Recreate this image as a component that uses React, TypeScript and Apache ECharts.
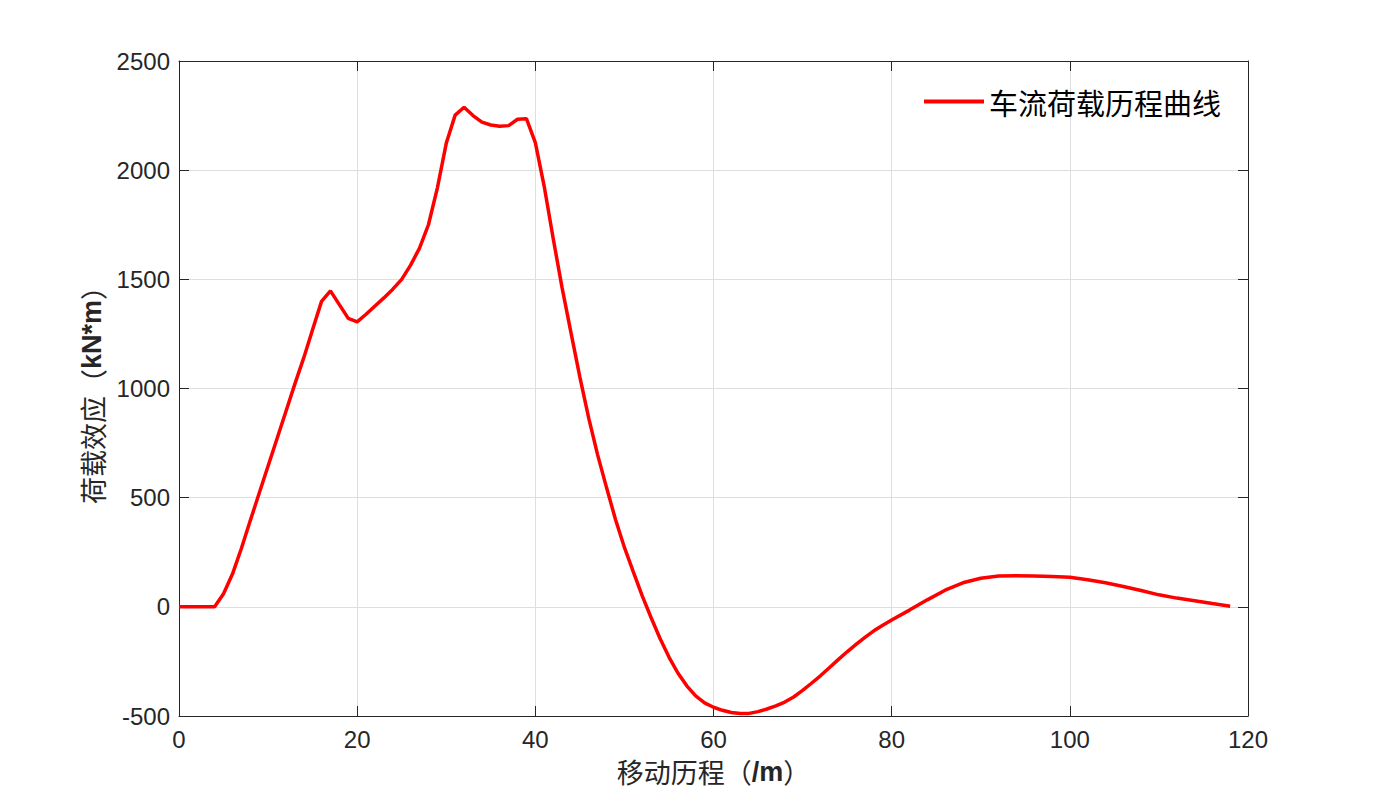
import React, { useEffect, useRef } from "react";
import * as echarts from "echarts";

const distance = [
  0, 1, 2, 3, 4, 5, 6, 7, 8, 9, 10, 11, 12, 13, 14, 15, 16, 17, 18, 19, 20,
  21, 22, 23, 24, 25, 26, 27, 28, 29, 30, 31, 32, 33, 34, 35, 36, 37, 38, 39, 40,
  41, 42, 43, 44, 45, 46, 47, 48, 49, 50, 51, 52, 53, 54, 55, 56, 57, 58, 59, 60,
  61, 62, 63, 64, 65, 66, 67, 68, 69, 70, 71, 72, 73, 74, 75, 76, 77, 78, 79, 80,
  82, 84, 86, 88, 90, 92, 94, 96, 98, 100, 102, 104, 106, 108, 110, 112, 114, 116, 118,
];
const loadEffect = [
  0, 0, 0, 0, 0, 60, 150, 267, 395, 520, 645, 770, 895, 1020, 1140, 1270, 1399, 1447, 1384, 1321, 1305,
  1340, 1378, 1415, 1455, 1500, 1565, 1643, 1750, 1918, 2123, 2252, 2288, 2250, 2220, 2207, 2201, 2204, 2233, 2236, 2126,
  1925, 1688, 1462, 1256, 1052, 863, 695, 545, 400, 272, 160, 50, -50, -145, -230, -303, -362, -408, -440, -460,
  -474, -484, -489, -488, -480, -468, -454, -436, -413, -383, -350, -316, -279, -242, -206, -172, -140, -110, -84, -60,
  -15, 32, 76, 110, 131, 141, 142, 141, 139, 135, 124, 110, 93, 75, 55, 40, 28, 15, 3,
];
const xTicks = { min: 0, max: 120, interval: 20 };
const yTicks = { min: -500, max: 2500, interval: 500 };
const seriesName = "车流荷载历程曲线";
const xNameCn = "移动历程（";
const xNameUnit = "/m";
const yNameCn = "荷载效应（";
const yNameUnit = "kN*m";
const nameEnd = "）";

const CJK = "'Noto Sans CJK SC', 'Liberation Sans', sans-serif";
const LAT = "'Liberation Sans', Arial, sans-serif";
const AX = "#262626";

export default function App() {
  const ref = useRef<HTMLDivElement>(null);
  useEffect(() => {
    if (!ref.current) return;
    const chart = echarts.init(ref.current, null, { renderer: "svg" });
    const data = distance.map((d, i) => [d, loadEffect[i]]);
    const nameRich = {
      cn: { fontFamily: CJK, fontSize: 27, color: AX },
      b: { fontFamily: LAT, fontSize: 27, fontWeight: "bold", color: AX },
    };
    const mirrorX = {
      type: "value",
      position: "top",
      ...xTicks,
      axisLine: { show: true, onZero: false, lineStyle: { color: AX, width: 1 } },
      axisTick: { show: true, inside: true, length: 10, lineStyle: { color: AX } },
      axisLabel: { show: false },
      splitLine: { show: false },
    };
    const mirrorY = {
      type: "value",
      position: "right",
      ...yTicks,
      axisLine: { show: true, onZero: false, lineStyle: { color: AX, width: 1 } },
      axisTick: { show: true, inside: true, length: 10, lineStyle: { color: AX } },
      axisLabel: { show: false },
      splitLine: { show: false },
    };
    chart.setOption({
      animation: false,
      backgroundColor: "#ffffff",
      grid: { left: 179, right: 132, top: 61, bottom: 88, containLabel: false },
      legend: {
        right: 154,
        top: 82,
        itemWidth: 60,
        itemHeight: 4,
        itemGap: 6,
        icon: "rect",
        data: [{ name: seriesName, itemStyle: { color: "#ff0000" } }],
        textStyle: { fontFamily: CJK, fontSize: 29, color: "#000000" },
      },
      xAxis: [
        {
          type: "value",
          position: "bottom",
          ...xTicks,
          name: `{cn|${xNameCn}}{b|${xNameUnit}}{cn|${nameEnd}}`,
          nameLocation: "middle",
          nameGap: 42,
          nameTextStyle: { color: AX, rich: nameRich },
          axisLine: { show: true, onZero: false, lineStyle: { color: AX, width: 1 } },
          axisTick: { show: true, inside: true, length: 10, lineStyle: { color: AX } },
          axisLabel: {
            fontFamily: LAT,
            fontSize: 24,
            color: AX,
            margin: 11,
            formatter: (v: number) => String(v),
          },
          splitLine: { show: true, lineStyle: { color: "#dedede", width: 1 } },
        },
        mirrorX,
      ],
      yAxis: [
        {
          type: "value",
          position: "left",
          ...yTicks,
          name: `{cn|${yNameCn}}{b|${yNameUnit}}{cn|${nameEnd}}`,
          nameLocation: "middle",
          nameGap: 70,
          nameRotate: 90,
          nameTextStyle: { color: AX, rich: nameRich },
          axisLine: { show: true, onZero: false, lineStyle: { color: AX, width: 1 } },
          axisTick: { show: true, inside: true, length: 10, lineStyle: { color: AX } },
          axisLabel: {
            fontFamily: LAT,
            fontSize: 24,
            color: AX,
            margin: 9,
            formatter: (v: number) => String(v),
          },
          splitLine: { show: true, lineStyle: { color: "#dedede", width: 1 } },
        },
        mirrorY,
      ],
      series: [
        {
          name: seriesName,
          type: "line",
          xAxisIndex: 0,
          yAxisIndex: 0,
          data,
          showSymbol: false,
          symbol: "none",
          smooth: false,
          lineStyle: { color: "#ff0000", width: 3.5 },
          itemStyle: { color: "#ff0000" },
        },
      ],
    });
    return () => chart.dispose();
  }, []);
  return (
    <div
      ref={ref}
      style={{ position: "fixed", left: 0, top: 0, width: 1380, height: 804, background: "#fff" }}
    />
  );
}
